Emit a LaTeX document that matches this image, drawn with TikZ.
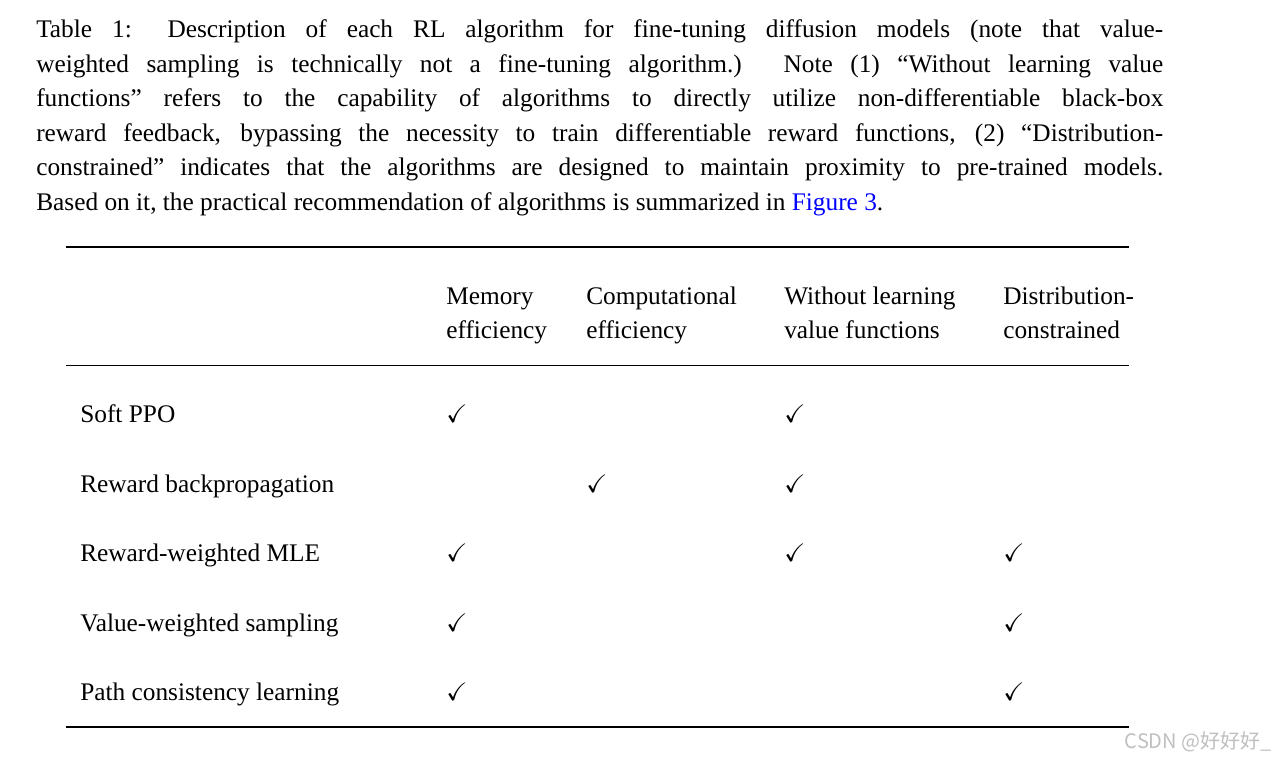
\documentclass[tikz,border=0pt]{standalone}
\usepackage{amssymb}
\usepackage{fontspec}
\setmainfont{Liberation Serif}
\newfontfamily\cjk{Noto Sans CJK SC}
\begin{document}
\begin{tikzpicture}[x=0.75pt,y=-0.75pt,
  txt/.style={anchor=base west,inner sep=0pt,font=\fontsize{19}{23}\selectfont},
  capline/.style={txt},
  ck/.style={anchor=base west,inner sep=0pt,font=\fontsize{19}{23}\selectfont},
  thickrule/.style={line width=1.5pt},
  thinrule/.style={line width=0.75pt}]
\useasboundingbox (0,0) rectangle (1276,762);
\def\W{845.25pt}
\node[capline] (c1) at (36,38) {\makebox[\W][s]{Table 1: Description of each RL algorithm for fine-tuning diffusion models (note that value-}};
\node[capline] (c2) at (36,73) {\makebox[\W][s]{weighted sampling is technically not a fine-tuning algorithm.) Note (1) ``Without learning value}};
\node[capline] (c3) at (36,107) {\makebox[\W][s]{functions'' refers to the capability of algorithms to directly utilize non-differentiable black-box}};
\node[capline] (c4) at (36,142) {\makebox[\W][s]{reward feedback, bypassing the necessity to train differentiable reward functions, (2) ``Distribution-}};
\node[capline] (c5) at (36,176) {\makebox[\W][s]{constrained'' indicates that the algorithms are designed to maintain proximity to pre-trained models.}};
\node[capline] (c6) at (36,211) {Based on it, the practical recommendation of algorithms is summarized in \textcolor{blue}{Figure 3}.};
\coordinate (r1a) at (66,247); \coordinate (r1b) at (1129,247);
\coordinate (r2a) at (66,366); \coordinate (r2b) at (1129,366);
\coordinate (r3a) at (66,727); \coordinate (r3b) at (1129,727);
\draw[thickrule] (r1a) -- (r1b);
\draw[thinrule] (r2a) -- (r2b);
\draw[thickrule] (r3a) -- (r3b);
\node[txt] (h1a) at (446,305) {Memory};
\node[txt] (h1b) at (446,339) {efficiency};
\node[txt] (h2a) at (586,305) {Computational};
\node[txt] (h2b) at (586,339) {efficiency};
\node[txt] (h3a) at (784,305) {Without learning};
\node[txt] (h3b) at (784,339) {value functions};
\node[txt] (h4a) at (1003,305) {Distribution-};
\node[txt] (h4b) at (1003,339) {constrained};
\node[txt] (l1) at (80,422) {Soft PPO};
\node[txt] (l2) at (80,492) {Reward backpropagation};
\node[txt] (l3) at (80,561) {Reward-weighted MLE};
\node[txt] (l4) at (80,631) {Value-weighted sampling};
\node[txt] (l5) at (80,700) {Path consistency learning};
\node[ck] (k11) at (446,422) {$\checkmark$};
\node[ck] (k13) at (784,422) {$\checkmark$};
\node[ck] (k22) at (586,492) {$\checkmark$};
\node[ck] (k23) at (784,492) {$\checkmark$};
\node[ck] (k31) at (446,561) {$\checkmark$};
\node[ck] (k33) at (784,561) {$\checkmark$};
\node[ck] (k34) at (1003,561) {$\checkmark$};
\node[ck] (k41) at (446,631) {$\checkmark$};
\node[ck] (k44) at (1003,631) {$\checkmark$};
\node[ck] (k51) at (446,700) {$\checkmark$};
\node[ck] (k54) at (1003,700) {$\checkmark$};
\node[anchor=base east,inner sep=0pt,text=black!25,font=\cjk\fontsize{15}{18}\selectfont] (wm) at (1272,748) {CSDN @好好好\_};
\end{tikzpicture}
\end{document}
